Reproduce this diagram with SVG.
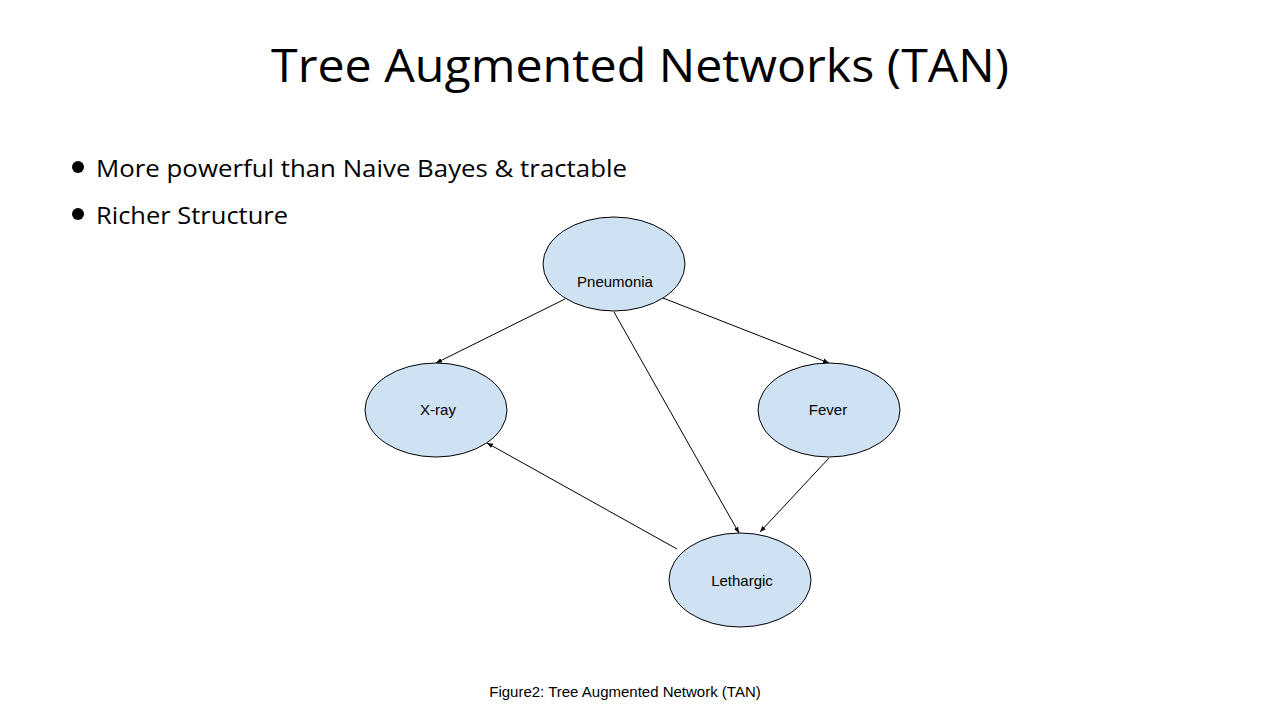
<svg xmlns="http://www.w3.org/2000/svg" width="1280" height="720" viewBox="0 0 1280 720">
<style>
.t{font-family:"Open Sans","Liberation Sans",sans-serif;fill:#000}
.n ellipse{fill:#cfe2f3;stroke:#000;stroke-width:1}
.n text{font-family:"Liberation Sans",Arial,sans-serif;font-size:15px;text-anchor:middle;fill:#000}
.e line{stroke:#000;stroke-width:1;marker-end:url(#a)}
</style>
<defs><marker id="a" viewBox="0 0 10 10" refX="10" refY="5" markerWidth="6" markerHeight="6" orient="auto"><path d="M0,1 L10,5 L0,9 z" fill="#000"/></marker></defs>
<rect width="1280" height="720" fill="#fff"/>
<text class="t" x="640" y="82" font-size="46" text-anchor="middle" textLength="738" lengthAdjust="spacingAndGlyphs">Tree Augmented Networks (TAN)</text>
<circle cx="78" cy="167" r="6" fill="#000"/>
<circle cx="78" cy="214" r="6" fill="#000"/>
<text class="t" x="96" y="177" font-size="24" textLength="531" lengthAdjust="spacingAndGlyphs">More powerful than Naive Bayes &amp; tractable</text>
<text class="t" x="96" y="224" font-size="24" textLength="192" lengthAdjust="spacingAndGlyphs">Richer Structure</text>
<g class="e" id="edges">
<line x1="565" y1="299" x2="436" y2="363"/>
<line x1="663" y1="298" x2="829" y2="363"/>
<line x1="614" y1="312" x2="739" y2="533"/>
<line x1="829" y1="458" x2="760" y2="532"/>
<line x1="677" y1="549" x2="487" y2="443"/>
</g>
<g class="n" id="pneumonia"><ellipse cx="614" cy="264" rx="71" ry="47"/><text x="615" y="287">Pneumonia</text></g>
<g class="n" id="xray"><ellipse cx="436" cy="410" rx="71" ry="47"/><text x="438" y="415">X-ray</text></g>
<g class="n" id="fever"><ellipse cx="829" cy="410" rx="71" ry="47"/><text x="828" y="415">Fever</text></g>
<g class="n" id="lethargic"><ellipse cx="740" cy="580" rx="71" ry="47"/><text x="742" y="586">Lethargic</text></g>
<text x="625" y="697" font-family="Liberation Sans,Arial,sans-serif" font-size="15" text-anchor="middle">Figure2: Tree Augmented Network (TAN)</text>
</svg>
